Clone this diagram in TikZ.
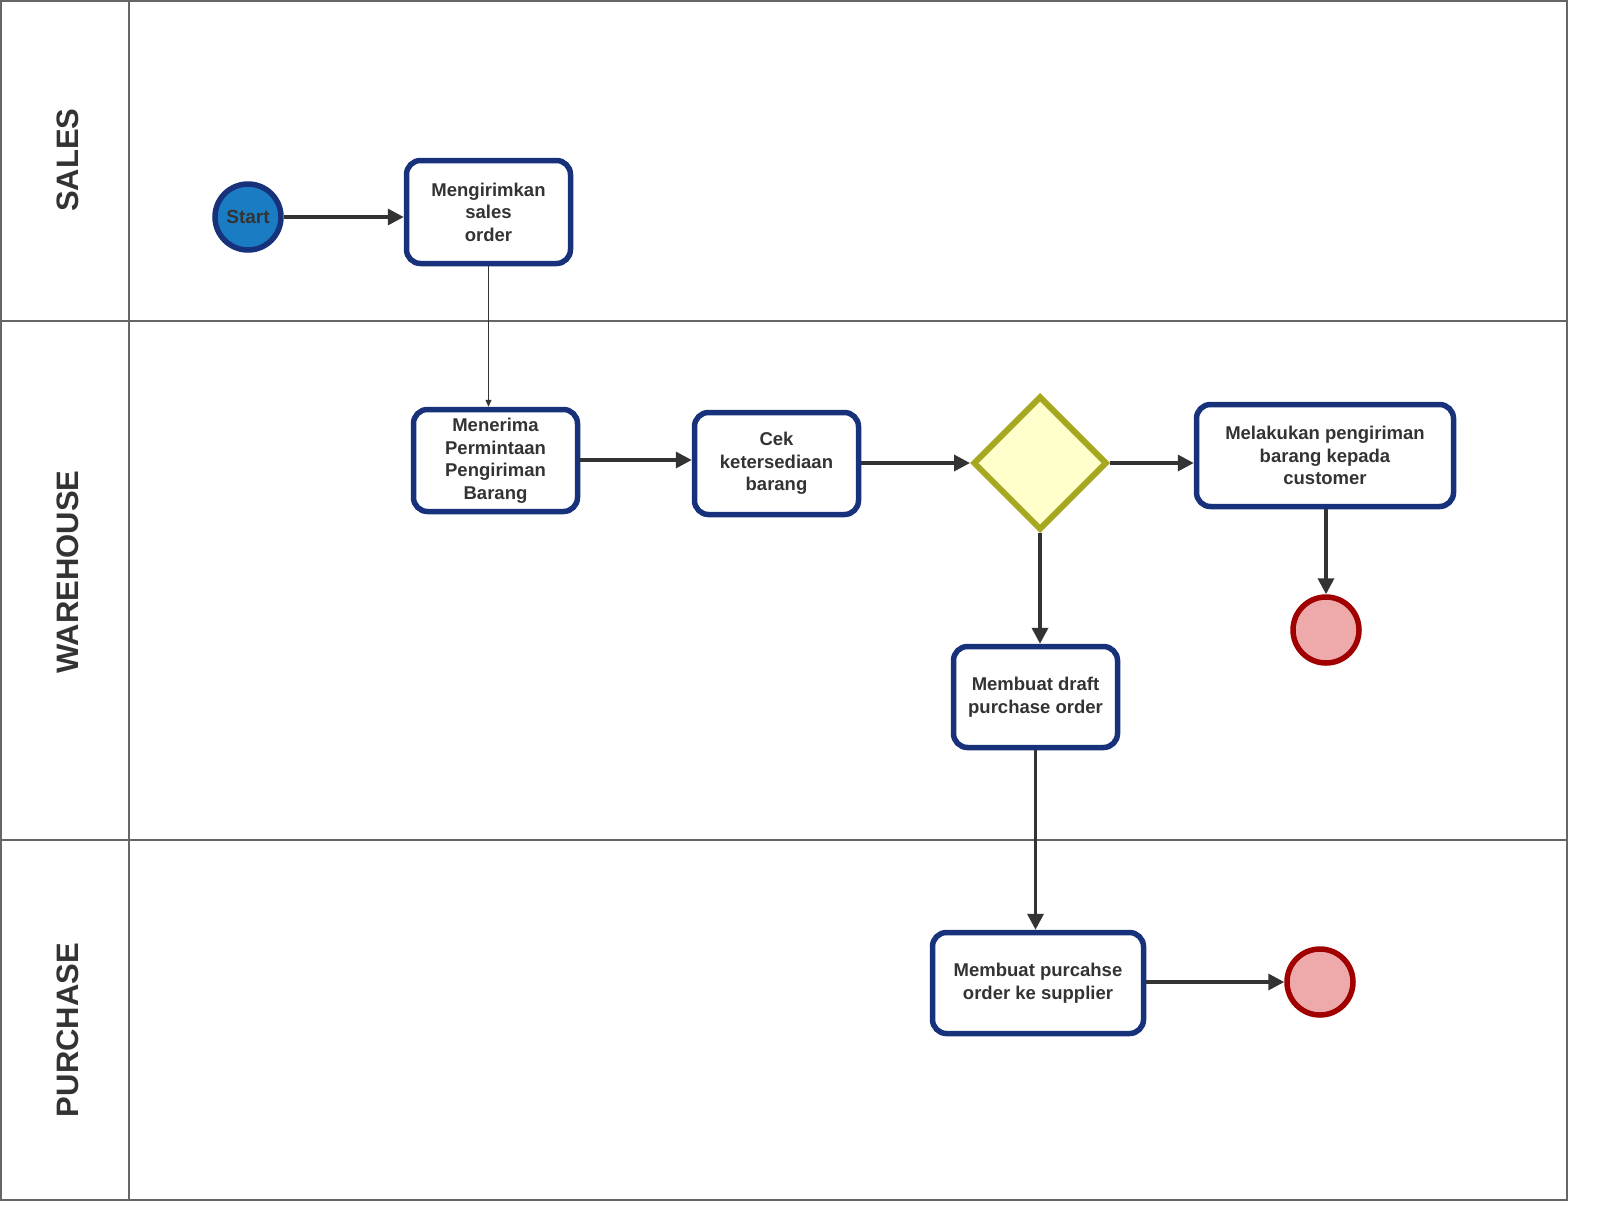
\documentclass[tikz,border=0pt]{standalone}
\usepackage{fontspec}
\setmainfont{Liberation Sans}
\usetikzlibrary{shapes.geometric,arrows.meta}
\definecolor{navy}{HTML}{17327A}
\definecolor{startblue}{HTML}{1A7DC4}
\definecolor{endred}{HTML}{A00000}
\definecolor{endfill}{HTML}{EEAAAA}
\definecolor{gwfill}{HTML}{FFFFCC}
\definecolor{gwline}{HTML}{A6A820}
\definecolor{txt}{HTML}{333333}
\begin{document}
\begin{tikzpicture}[x=1pt,y=-1pt,
  task/.style={draw=navy,line width=5.5pt,rounded corners=14pt,fill=white,align=center,
    font=\fontsize{18.5}{22.5}\selectfont\bfseries,text=txt,inner sep=0pt},
  flow/.style={draw=txt,line width=3.5pt,-{Triangle[length=16pt,width=16pt]}},
  lanelbl/.style={rotate=90,font=\fontsize{31}{34}\selectfont\bfseries,text=txt},
  lane/.style={draw=black!60,line width=1.2pt}]
\useasboundingbox (0,0) rectangle (1600,1227);
% lanes
\draw[lane] (1,1) rectangle (1567,1200);
\draw[lane] (129,1) -- (129,1200);
\draw[lane] (1,321) -- (1567,321);
\draw[lane] (1,840) -- (1567,840);
\node[lanelbl] (l1) at (68,160) {SALES};
\node[lanelbl] (l2) at (68,572) {WAREHOUSE};
\node[lanelbl] (l3) at (68,1030) {PURCHASE};
% nodes
\node[circle,draw=navy,fill=startblue,line width=5.5pt,minimum size=66pt,inner sep=0pt,
  font=\fontsize{19}{22}\selectfont\bfseries,text=txt] (start) at (248,217) {Start};
\node[task,minimum width=164pt,minimum height=103pt] (t1) at (488.5,212) {Mengirimkan\\sales\\order};
\node[task,minimum width=164pt,minimum height=102pt] (t2) at (495.5,460.5) {Menerima\\Permintaan\\Pengiriman\\Barang};
\node[task,minimum width=164pt,minimum height=102pt] (t3) at (776.5,463.5) {Cek\\ketersediaan\\barang};
\node[diamond,draw=gwline,fill=gwfill,line width=6pt,minimum width=134pt,minimum height=134pt,inner sep=0pt] (gw) at (1040,463) {};
\node[task,minimum width=257pt,minimum height=102pt] (t4) at (1325,455.5) {Melakukan pengiriman\\barang kepada\\customer};
\node[circle,draw=endred,fill=endfill,line width=5.5pt,minimum size=66pt,inner sep=0pt] (e1) at (1326,630) {};
\node[task,minimum width=164pt,minimum height=101pt] (t5) at (1035.5,697) {Membuat draft\\purchase order};
\node[task,minimum width=211pt,minimum height=101pt] (t6) at (1038,983) {Membuat purcahse\\order ke supplier};
\node[circle,draw=endred,fill=endfill,line width=5.5pt,minimum size=66pt,inner sep=0pt] (e2) at (1320,982) {};
% flows
\draw[flow] (start.east) -- (t1.west |- start.east);
\draw[draw=txt,line width=1pt,-{Triangle[length=7pt,width=6pt]}] (t1.south) -- (t2.north -| t1.south);
\draw[flow] (t2.east |- 0,460) -- (t3.west |- 0,460);
\draw[flow] (t3.east |- gw) -- (gw.west);
\draw[flow] (gw.east) -- (t4.west |- gw.east);
\draw[flow] (t4.south -| e1) -- (e1);
\draw[flow] (gw.south) -- (gw.south |- t5.north);
\draw[flow] (t5) -- (t6.north -| t5);
\draw[flow] (t6.east |- e2) -- (e2.west);
\end{tikzpicture}
\end{document}
